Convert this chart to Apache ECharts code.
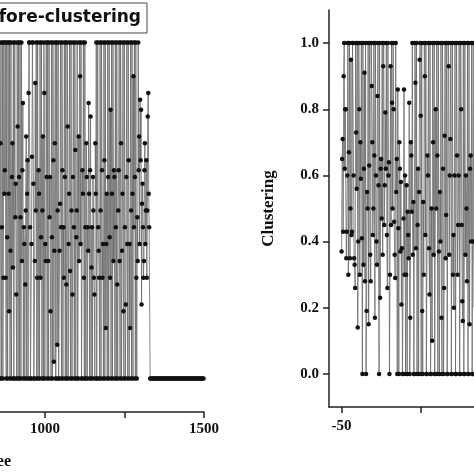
<!DOCTYPE html><html><head><meta charset="utf-8"><script src="https://cdn.jsdelivr.net/npm/echarts@6/dist/echarts.min.js"></script>
<style>html,body{margin:0;background:#fff}#c{width:474px;height:474px}</style></head><body><div id="c"></div><script>
const leftY=[0,1,0.45,0,1,0.62,0.3,1,0,0.55, 1,0.38,0,0.7,1,0,0.48,0.25,1,0, 0.6,1,0,0.35,0.82,0.45,0,0.5,0,0.65, 0.85,1,0,0.4,1,0.58,0,0.88,1,0.3, 0,0.55,1,0.42,0,0.72,1,0,0.35,0.6, 1,0,0.48,0.2,1,0,0.65,0.38,1,0, 0.1,1,0,0.52,0.45,1,0,0.3,0.6,1, 0,0.75,0.4,1,0,0.5,0.25,1,0,0.68, 0.42,1,0,0.35,0.9,1,0,0.55,0.3,1, 0,0.6,0.45,0.82,0,0.78,0.33,0,0.5,0.25, 0.7,1,0,0.45,0.3,1,0,0.62,0.4,1, 0,0.15,0.55,1,0,0.42,0.8,1,0,0.35, 0.6,1,0,0.28,0.5,1,0,0.7,0.38,1, 0,0.45,0.22,1,0,0.65,0.4,1,0,0.55, 0.9,1,0,0.3,0.48,1,0.72,0.83,0.8,0.52, 0.45,0.35,0.7,0.5,0.3,0.78,0.55];
const leftY2=[0.7,0,1,0.3,0.55,1,0,0.42,1,0.2, 0,1,0.6,0.33,0,1,0.58,0,0.75,1, 0,0.48,1,0.62,0,0.4,0.28,0.72,0.55,0, 1,0.45,0,0.66,1,0,0.35,0.5,0,1, 0.62,0,0.3,1,0.5,0,0.85,0.4,1,0, 0.35,1,0.6,0,0.42,1,0.05,0.7,0,1, 0.5,0,0.38,1,0,0.62,0.45,1,0,0.28, 1,0,0.55,0.32,1,0,0.6,0.45,1,0, 0.5,0,0.72,1,0.4,0,0.62,1,0,0.45, 0.7,0,0.38,0.55,0.62,0,0.45,0.6,0.3,0, 0.55,0,1,0.38,0,0.5,1,0.3,0,0.65, 1,0.4,0,0.6,1,0.3,0,0.55,1,0.62, 0,0.45,1,0,0.62,0.35,1,0,0.55,0.2, 1,0,0.6,0.4,1,0,0.15,0.5,1,0, 0.45,0.6,1,0,0.35,0.62,0.4,0.65,0.22,0.58, 0.3,0.62,0.4,0.65,0.5,0.85,0.45];
const leftTailCount=57;
const rightY=[0.37,0.71,0.9,0.62,0.8,0.43,1,0.67,0.35,0.95, 0.43,1,0.35,0.26,0.73,1,0.4,0.8,0.7,1, 0,0.33,0.91,1,0.19,0.5,0.15,1,0.28,0.87, 0.42,1,0.17,0.6,0.33,1,0,0.23,0.65,1, 0.93,0.45,0.79,1,0.26,0.6,0,0.93,1,0.5, 0.8,0.36,1,0.65,0.86,0,0.62,0.58,0.38,0, 0.86,0.6,0.3,0,0.42,0.82,0.17,0.66,1,0.52, 0,0.88,1,0.45,0,0.95,0.78,1,0,0.3, 0.9,1,0,0.6,0.38,1,0,0.1,0.7,1, 0,0.5,0.66,1,0,0.4,0.17,1,0,0.72, 0.35,1,0,0.93,0.6,1,0,0.3,0.2,1, 0,0.66,0.45,1,0,0.8,0.22,1,0,0.36, 0.5,1,0,0.15,0.66,1,0,0.4,0.72,1];
const rightY2=[0.65,0.43,1,0.8,0.35,0.6,0.3,1,0.5,0.42, 1,0.6,0.33,1,0.56,0.14,1,0.3,0.59,0.41, 1,0.62,0.28,0,0.55,1,0.63,0.36,1,0.7, 0.5,0.66,1,0.4,0.84,0.57,1,0.62,0.47,0.36, 1,0.57,0.62,0.42,1,0.64,0.3,0.45,0.82,1, 0.46,0.29,0.55,0,0.44,0.7,0.37,0.21,0,0.47, 0.3,0,0.57,0.49,0.35,0,0.7,0.49,0.36,0, 1,0.38,0,0.62,0.55,1,0,0.19,0.52,1, 0.42,0,0.66,1,0.24,0,0.5,1,0.36,0, 0.8,1,0,0.37,0.55,1,0,0.62,0.26,1, 0.48,0,1,0.36,0.71,0,1,0.42,0.6,0, 1,0.3,0.6,0,1,0.45,0.16,0,1,0.6, 0.28,0,1,0.62,0.4,0,1,0.2,0.55,0];
const leftXStart=858, leftStep=3, rightXStart=-50, rightStep=0.33;
function build(a,b,x0,st){const d=[];a.forEach((v,i)=>{d.push([x0+i*st,v]);d.push([x0+(i+0.5)*st,b[i]]);});return d;}
const leftData=build(leftY,leftY2,leftXStart,leftStep);
const lastX=leftData[leftData.length-1][0];
for(let i=1;i<=leftTailCount;i++)leftData.push([lastX+i*leftStep,0]);
const rightData=build(rightY,rightY2,rightXStart,rightStep);
const F='Liberation Serif';
const lab={fontFamily:F,fontWeight:'bold',fontSize:15,color:'#111'};
const tk={show:true,length:6,lineStyle:{color:'#222',width:1.5}};
const ser=(d,xi)=>({type:'line',xAxisIndex:xi,yAxisIndex:xi,data:d,symbol:'circle',symbolSize:4.5,itemStyle:{color:'#111'},lineStyle:{color:'#6a6a6a',width:0.8},animation:false});
const chart=echarts.init(document.getElementById('c'));
chart.setOption({
grid:[{left:0,right:270,top:9,bottom:62},{left:329,right:0,top:10,bottom:67}],
xAxis:[{gridIndex:0,type:'value',min:858,max:1500,axisLine:{onZero:false,lineStyle:{color:'#222',width:1.5}},axisTick:Object.assign({},tk,{customValues:[1000,1250,1500]}),splitLine:{show:false},axisLabel:Object.assign({},lab,{margin:10,customValues:[1000,1500],formatter:v=>String(v)})},
{gridIndex:1,type:'value',min:-54,max:-8,axisLine:{onZero:false,lineStyle:{color:'#222',width:1.5}},axisTick:Object.assign({},tk,{customValues:[-50,-25]}),splitLine:{show:false},axisLabel:Object.assign({},lab,{margin:12,customValues:[-50],formatter:v=>String(v)})}],
yAxis:[{gridIndex:0,type:'value',min:-0.1,max:1.1,show:false},
{gridIndex:1,type:'value',min:-0.1,max:1.1,axisLine:{show:true,onZero:false,lineStyle:{color:'#222',width:1.5}},axisTick:Object.assign({},tk,{customValues:[0,0.2,0.4,0.6,0.8,1.0]}),splitLine:{show:false},
axisLabel:Object.assign({},lab,{margin:10,customValues:[0,0.2,0.4,0.6,0.8,1.0],formatter:v=>v.toFixed(1)}),
name:'Clustering',nameLocation:'middle',nameGap:52,nameTextStyle:{fontFamily:F,fontWeight:'bold',fontSize:17,color:'#111'}}],
series:[ser(leftData,0),ser(rightData,1)],
graphic:[{type:'rect',shape:{x:-5,y:3,width:152,height:30},style:{fill:'#fff',stroke:'#444',lineWidth:1},z:100},
{type:'text',x:141,y:18,style:{text:'before-clustering',align:'right',verticalAlign:'middle',font:'bold 17px "DejaVu Sans"',fill:'#111'},z:101},
{type:'text',x:11,y:462,style:{text:'Degree',align:'right',verticalAlign:'middle',font:'bold 16px "Liberation Serif"',fill:'#111'},z:101}]
});
</script></body></html>
